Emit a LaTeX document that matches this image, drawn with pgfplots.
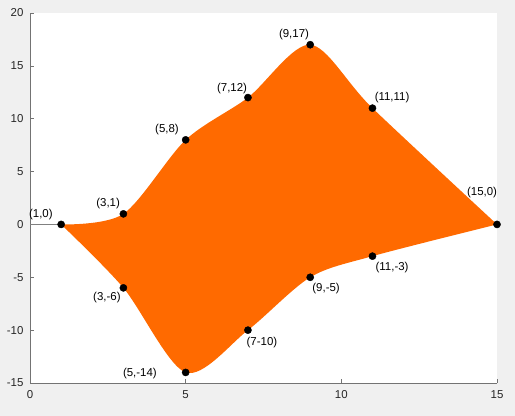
\documentclass[border=0pt]{standalone}
\usepackage{pgfplots}
\pgfplotsset{compat=1.18}
\usepgfplotslibrary{fillbetween}
\usepackage{fontspec}
\setmainfont{Liberation Sans}
\definecolor{fillor}{RGB}{255,106,0}
\definecolor{bggray}{RGB}{240,240,240}
\definecolor{axgray}{RGB}{38,38,38}
\begin{document}
\begin{tikzpicture}
\begin{axis}[
 set layers=standard,
 scale only axis, width=467bp, height=370bp,
 xmin=0,xmax=15,ymin=-15,ymax=20,
 axis lines*=left,
 axis line style={black!55, line width=0.6bp},
 tick align=inside, major tick length=4bp,
 tick style={black!55, line width=0.6bp},
 xtick={0,5,10,15}, ytick={-15,-10,...,20},
 ticklabel style={font=\fontsize{11.5}{13}\selectfont, text=axgray},
 xticklabel style={yshift=-4bp},
 yticklabel style={xshift=-3bp},
 /pgf/number format/assume math mode=true,
 clip=false,
]
\addplot[black!50, line width=0.6bp] coordinates {(0,0) (1,0)};
\addplot[name path=U, draw=none, smooth] coordinates {(1,0) (3,1) (5,8) (7,12) (9,17) (11,11) (15,0)};
\addplot[name path=L, draw=none, smooth] coordinates {(1,0) (3,-6) (5,-14) (7,-10) (9,-5) (11,-3) (15,0)};
\addplot[fillor] fill between[of=U and L];
\addplot[only marks, mark=*, mark size=3.6bp, black] coordinates {(1,0) (3,1) (5,8) (7,12) (9,17) (11,11) (15,0) (3,-6) (5,-14) (7,-10) (9,-5) (11,-3)};
\begin{scope}[every node/.style={font=\fontsize{11.5}{13}\selectfont, text=black, inner sep=0pt}]
\node at (axis cs:0.35,0.89) {(1,0)};
\node at (axis cs:2.51,1.93) {(3,1)};
\node at (axis cs:4.40,8.93) {(5,8)};
\node at (axis cs:6.49,12.90) {(7,12)};
\node at (axis cs:8.48,17.92) {(9,17)};
\node at (axis cs:11.63,11.96) {(11,11)};
\node at (axis cs:14.52,2.97) {(15,0)};
\node at (axis cs:2.47,-6.87) {(3,-6)};
\node at (axis cs:3.53,-14.06) {(5,-14)};
\node at (axis cs:7.45,-11.13) {(7-10)};
\node at (axis cs:9.51,-6.11) {(9,-5)};
\node at (axis cs:11.63,-4.12) {(11,-3)};
\end{scope}
\end{axis}
\begin{pgfonlayer}{axis background}
\fill[bggray] (-30bp,-33bp) rectangle (485bp,383bp);
\fill[white] (0,0) rectangle (467bp,370bp);
\end{pgfonlayer}
\pgfresetboundingbox
\useasboundingbox (-30bp,-33bp) rectangle (485bp,383bp);
\end{tikzpicture}
\end{document}
